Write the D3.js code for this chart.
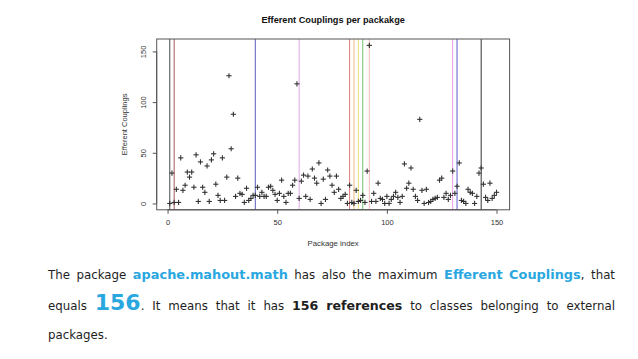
<!DOCTYPE html>
<html><head><meta charset="utf-8">
<script src="https://cdn.jsdelivr.net/npm/d3@7"></script>
<style>html,body{margin:0;padding:0;background:#fff;}svg{display:block;}</style>
</head><body>
<script>
// ---- data ----
const efferent = [0,30,1,14,1,45,13,18,31,26,31,16,48,2,41,16,11,37,2,43,
49,19,8,3,45,3,26,126,54,88,7,25,10,9,1,15,3,5,8,8,
16,7,11,7,7,16,17,13,9,3,10,23,7,1,10,10,18,23,118,5,
22,28,7,27,4,34,25,20,40,0,24,4,33,27,18,11,27,14,5,7,
9,0,18,1,0,13,2,3,8,1,32,156,2,10,2,20,5,4,0,7,
0,4,7,11,6,1,7,39,15,20,35,14,7,3,83,13,0,14,1,2,
4,5,6,23,25,6,10,4,8,32,10,17,40,3,2,0,14,11,10,0,
7,30,35,19,6,3,20,5,8,11];
const packageIndex = efferent.map((d,i)=>i+1);
const markerIndex = [1,3,40,60,83,85,87,89,92,130,132,143];
const markerColor = ["#4a4a4a","#a85a5a","#5a5ab8","#e0a8e8","#e07a7a","#f0b878","#ece070","#6cc46c","#f2b8b8","#e69ae6","#5a5ac8","#333333"];
const xTicks = [0,50,100,150];
const yTicks = [0,50,100,150];
const title = "Efferent Couplings per packakge";
const xLabel = "Package index";
const yLabel = "Efferent Couplings";

const W=638,H=359;
const svg=d3.select("body").append("svg").attr("width",W).attr("height",H);
const L=156.7,R=509.6,T=39,B=209.8;
const n=efferent.length;
const xr=(n-1)*0.04, ymax=d3.max(efferent), yr=ymax*0.04;
const x=d3.scaleLinear().domain([1-xr,n+xr]).range([L,R]);
const y=d3.scaleLinear().domain([-yr,ymax+yr]).range([B,T]);

// vertical marker lines
svg.append("g").selectAll("line").data(markerIndex).join("line")
 .attr("x1",d=>x(d)).attr("x2",d=>x(d)).attr("y1",T).attr("y2",B)
 .attr("stroke",(d,i)=>markerColor[i]).attr("stroke-width",1);

// points (pch=3 '+')
const s=2.6;
const pts=svg.append("g").attr("stroke","#333").attr("stroke-width",1.1);
packageIndex.forEach((p,i)=>{
  const cx=x(p), cy=y(efferent[i]);
  pts.append("line").attr("x1",cx-s).attr("x2",cx+s).attr("y1",cy).attr("y2",cy);
  pts.append("line").attr("x1",cx).attr("x2",cx).attr("y1",cy-s).attr("y2",cy+s);
});

// box
svg.append("rect").attr("x",L).attr("y",T).attr("width",R-L).attr("height",B-T)
 .attr("fill","none").attr("stroke","#555").attr("stroke-width",1);

const axFont="Liberation Sans, Arial, sans-serif";
// x axis
const gx=svg.append("g").attr("transform",`translate(0,${B})`)
 .call(d3.axisBottom(x).tickValues(xTicks).tickSize(4).tickPadding(6).tickSizeOuter(0));
gx.select(".domain").attr("stroke","#555").attr("d",`M${x(0)},0H${x(150)}`);
gx.selectAll(".tick line").attr("stroke","#555");
gx.selectAll("text").attr("font-family",axFont).attr("font-size",7.5).attr("fill","#333");
// y axis
const gy=svg.append("g").attr("transform",`translate(${L},0)`)
 .call(d3.axisLeft(y).tickValues(yTicks).tickSize(4).tickSizeOuter(0));
gy.select(".domain").attr("stroke","#555").attr("d",`M0,${y(0)}V${y(150)}`);
gy.selectAll(".tick line").attr("stroke","#555");
gy.selectAll("text").attr("font-family",axFont).attr("font-size",7.5).attr("fill","#333")
 .attr("x",0).attr("dy",0).attr("text-anchor","middle")
 .attr("transform","translate(-11,0) rotate(-90)");

svg.append("text").attr("x",(L+R)/2).attr("y",23).attr("text-anchor","middle")
 .attr("font-family",axFont).attr("font-weight","bold").attr("font-size",9.2).attr("fill","#111").text(title);
svg.append("text").attr("x",(L+R)/2).attr("y",246).attr("text-anchor","middle")
 .attr("font-family",axFont).attr("font-size",7.8).attr("fill","#333").text(xLabel);
svg.append("text").attr("transform",`translate(127,${(T+B)/2}) rotate(-90)`).attr("text-anchor","middle")
 .attr("font-family",axFont).attr("font-size",7.5).attr("fill","#333").text(yLabel);

// ---- paragraph ----
const BLUE="#2aa7df", INK="#1e1e1e";
const bodyFont="DejaVu Sans, Noto Sans, sans-serif";
const N={fill:INK,w:"normal",s:11.8}, Bb={fill:BLUE,w:"bold",s:12.9}, Bk={fill:INK,w:"bold",s:12.6}, Big={fill:BLUE,w:"bold",s:22};
const lines=[
 {y:279,justify:true,words:[[["The",N]],[["package",N]],[["apache.mahout.math",Bb]],[["has",N]],[["also",N]],[["the",N]],[["maximum",N]],[["Efferent",Bb]],[["Couplings",Bb],[",",N]],[["that",N]]]},
 {y:310,justify:true,words:[[["equals",N]],[["156",Big],[".",N]],[["It",N]],[["means",N]],[["that",N]],[["it",N]],[["has",N]],[["156",Bk]],[["references",Bk]],[["to",N]],[["classes",N]],[["belonging",N]],[["to",N]],[["external",N]]]},
 {y:339,justify:false,words:[[["packages.",N]]]}
];
const X0=48,X1=615;
lines.forEach(ln=>{
  const g=svg.append("g");
  const ws=ln.words.map(wd=>{
    const t=g.append("text").attr("y",ln.y).attr("font-family",bodyFont);
    wd.forEach(([str,st])=>t.append("tspan").text(str).attr("fill",st.fill).attr("font-weight",st.w).attr("font-size",st.s));
    return {t,w:t.node().getComputedTextLength()};
  });
  const tot=d3.sum(ws,d=>d.w);
  const gap=ln.justify?(X1-X0-tot)/(ws.length-1):4;
  let cx=X0;
  ws.forEach(d=>{d.t.attr("x",cx);cx+=d.w+gap;});
});
</script>
</body></html>
